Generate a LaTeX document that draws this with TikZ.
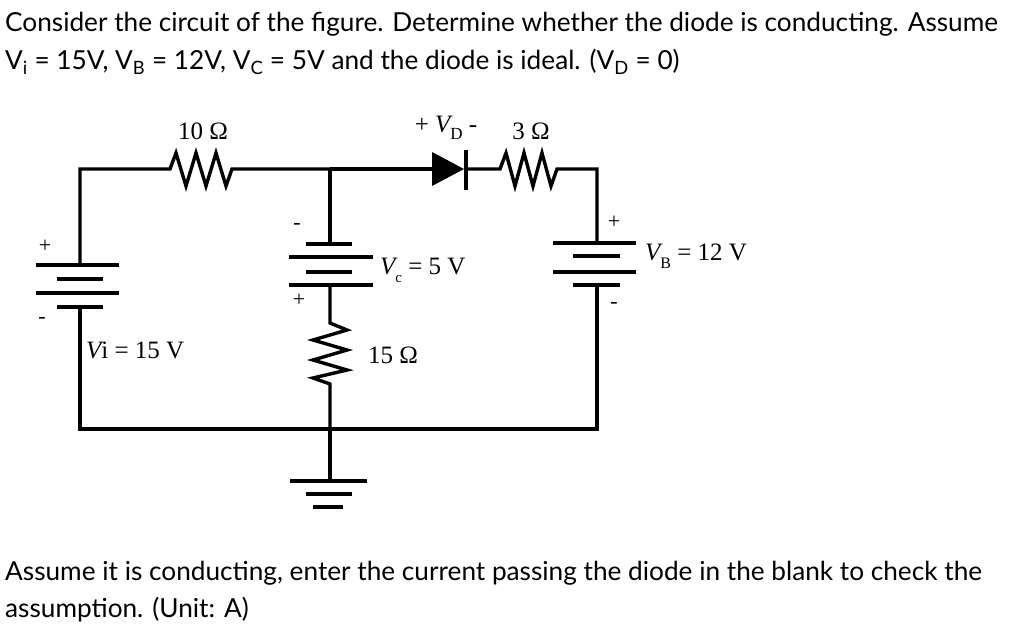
\documentclass[tikz,border=0pt]{standalone}
\usepackage{fontspec}
\setmainfont{Lato}
\newfontfamily\tms{Liberation Serif}
\begin{document}
\begin{tikzpicture}[x=1pt,y=-1pt,
  w/.style={line width=3.4pt,line cap=butt,line join=miter},
  txt/.style={font=\fontsize{26.2}{30}\selectfont,anchor=west,inner sep=0},
  lab/.style={font=\tms\fontsize{25}{30}\selectfont,inner sep=0},
  sg/.style={font=\tms\fontsize{22}{26}\selectfont,inner sep=0}]
\useasboundingbox (0,0) rectangle (1024,637);
\fill[white] (0,0) rectangle (1024,637);
% text
\node[txt] (t1) at (5,24) {Consider the circuit of the figure. Determine whether the diode is conducting. Assume};
\node[txt] (t2) at (5,62) {V\textsubscript{i} = 15V, V\textsubscript{B} = 12V, V\textsubscript{C} = 5V and the diode is ideal. (V\textsubscript{D} = 0)};
\node[txt] (t3) at (5,573) {Assume it is conducting, enter the current passing the diode in the blank to check the};
\node[txt] (t4) at (5,610) {assumption. (Unit: A)};
% coordinates
\coordinate (TL) at (80,169); \coordinate (BL) at (80,429);
\coordinate (TM) at (330,169); \coordinate (BM) at (330,429);
\coordinate (TR) at (597,169); \coordinate (BR) at (597,429);
% left branch with battery Vi
\draw[w] (80,265) -- (TL) -- (170,169)
  -- (176,153) -- (186,186) -- (196,153) -- (206,186) -- (216,153) -- (226,186) -- (232,169) -- (TM);
\draw[w] (36,265) -- (119,265) (57,279) -- (103,279) (36,293) -- (119,293) (57,307) -- (103,307);
\draw[w] (80,307) -- (BL) -- (BM) -- (BR) -- (597,285);
% middle branch
\draw[w] (TM) -- (330,244);
\draw[w] (306,244) -- (352,244) (289,257) -- (373,257) (306,272) -- (352,272) (289,285) -- (373,285);
\draw[w] (330,285) -- (330,323) -- (347,330) -- (313,340) -- (347,350) -- (313,360) -- (347,370) -- (313,378) -- (330,384) -- (BM);
\draw[w] (BM) -- (330,481);
\draw[w] (290,481) -- (367,481) (306,494) -- (352,494) (313,507) -- (343,507);
% diode and 3 ohm
\draw[w] (TM) -- (432,169);
\fill (432,152) -- (464,169) -- (432,186) -- cycle;
\draw[w] (466,150) -- (466,190);
\draw[w] (466,169) -- (500,169) -- (506,153) -- (515,186) -- (524,153) -- (533,186) -- (542,153) -- (551,186) -- (557,169) -- (TR) -- (597,243);
\draw[w] (553,243) -- (636,243) (573,256) -- (620,256) (553,272) -- (636,272) (573,285) -- (620,285);
% labels
\node[lab] (l1) at (203,131) {10 Ω};
\node[lab] (l2) at (531,131) {3 Ω};
\node[lab] (l3) at (446,128) {+ {\itshape V}\raisebox{-0.6ex}{\fontsize{17}{20}\selectfont D} -};
\node[lab,anchor=west] (l4) at (86,350) {{\itshape V}i = 15 V};
\node[lab,anchor=west] (l5) at (380,270) {{\itshape V}\raisebox{-0.7ex}{\fontsize{15}{18}\selectfont c} = 5 V};
\node[lab,anchor=west] (l6) at (368,355) {15 Ω};
\node[lab,anchor=west] (l7) at (645,256) {{\itshape V}\raisebox{-0.7ex}{\fontsize{16}{18}\selectfont B} = 12 V};
\node[sg] at (45,246) {+}; \node[sg] at (42,320) {-};
\node[sg] at (297,226) {-}; \node[sg] at (299,300) {+};
\node[sg] at (614,222) {+}; \node[sg] at (614,305) {-};
\end{tikzpicture}
\end{document}
